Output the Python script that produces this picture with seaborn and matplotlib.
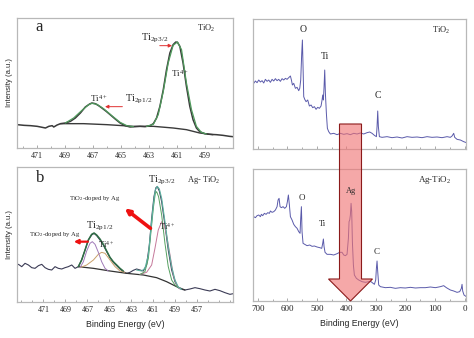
import matplotlib
matplotlib.use("Agg")
import matplotlib.pyplot as plt
import seaborn as sns
from matplotlib.patches import FancyArrow
from matplotlib.ticker import MultipleLocator

# ---------------- data (binding energy in eV, intensity in a.u.) ----------------
# panel a: Ti 2p of TiO2
a_raw_be = [472.38, 471.90, 471.43, 470.96, 470.60, 470.37, 470.13, 469.89, 469.78, 469.54,
            469.30, 468.95, 468.59, 468.24, 467.88, 467.53, 467.22, 467.06, 466.82, 466.58,
            466.35, 466.04, 465.76, 465.40, 465.05, 464.69, 464.34, 463.98, 463.63, 463.27,
            462.92, 462.68, 462.45, 462.21, 461.97, 461.74, 461.50, 461.27, 461.08, 460.96,
            460.79, 460.56, 460.32, 460.08, 459.85, 459.61, 459.37, 459.02, 458.66, 458.19,
            457.72, 457.25, 456.77, 456.54]
a_raw_int = [70, 68, 67, 65, 62, 60, 65, 67, 63, 69, 73, 75, 80, 90, 105, 123, 132, 135, 133, 127,
             120, 110, 100, 87, 75, 67, 63, 64, 65, 64, 67, 73, 90, 125, 175, 235, 285, 310, 318, 317,
             305, 255, 185, 125, 85, 60, 49, 43, 41, 40, 38, 35, 33, 32]
a_fit1_be = [468.95, 468.36, 467.77, 467.29, 467.06, 466.70, 466.23, 465.64, 465.05, 464.57, 464.10]
a_fit1_int = [75, 90, 113, 130, 134, 131, 118, 97, 77, 67, 64]
a_fit2_be = [463.16, 462.68, 462.33, 461.97, 461.62, 461.27, 460.96, 460.67, 460.32, 459.96,
             459.61, 459.26, 458.90]
a_fit2_int = [65, 71, 100, 170, 255, 308, 318, 295, 195, 115, 65, 47, 42]
a_bg_be = [469.30, 467.65, 465.99, 464.10, 462.68, 461.27, 460.32, 459.37, 458.43]
a_bg_int = [73, 73, 70, 65, 65, 60, 55, 45, 40]

# panel b: Ti 2p of Ag-TiO2
b_raw_be = [473.42, 473.27, 472.97, 472.67, 472.36, 472.06, 471.76, 471.45, 471.15, 470.85,
            470.55, 470.24, 469.94, 469.64, 469.33, 469.03, 468.73, 468.42, 468.12, 467.82,
            467.52, 467.21, 466.91, 466.61, 466.39, 466.15, 465.85, 465.55, 465.24, 464.94,
            464.64, 464.33, 464.03, 463.73, 463.42, 463.12, 462.82, 462.52, 462.21, 461.91,
            461.61, 461.36, 461.15, 460.94, 460.76, 460.64, 460.45, 460.24, 459.94, 459.64,
            459.33, 459.03, 458.73, 458.42, 458.12, 457.67, 457.21, 456.76, 456.30, 455.85,
            455.39, 454.94, 454.48, 454.03, 453.73]
b_raw_int = [111, 113, 106, 116, 111, 103, 101, 109, 113, 103, 98, 96, 106, 101, 99, 103, 106, 111,
             101, 106, 126, 156, 186, 201, 206, 199, 186, 171, 151, 133, 119, 109, 99, 91, 86, 89,
             95, 99, 96, 93, 111, 171, 251, 316, 343, 346, 333, 301, 231, 156, 96, 61, 43, 38, 36,
             39, 43, 40, 36, 33, 38, 34, 28, 23, 25]
b_bg_be = [467.82, 466.45, 464.94, 463.42, 461.91, 460.70, 459.79, 458.88, 458.12]
b_bg_int = [106, 101, 93, 86, 81, 73, 61, 46, 36]
b_env1_be = [467.82, 467.52, 467.21, 466.91, 466.61, 466.39, 466.15, 465.85, 465.55, 465.24,
             464.94, 464.64, 464.33, 464.03, 463.73]
b_env1_int = [106, 126, 156, 186, 203, 207, 201, 189, 173, 153, 134, 121, 111, 101, 93]
b_dop1_be = [467.67, 467.36, 467.06, 466.76, 466.55, 466.30, 466.00, 465.70, 465.39, 465.09]
b_dop1_int = [103, 121, 153, 176, 181, 173, 149, 121, 101, 93]
b_ti1_be = [467.67, 467.06, 466.45, 466.00, 465.70, 465.39, 464.94, 464.48, 464.03, 463.58]
b_ti1_int = [103, 111, 126, 143, 149, 146, 126, 106, 93, 89]
b_env2_be = [462.52, 462.06, 461.76, 461.45, 461.24, 461.00, 460.82, 460.64, 460.45, 460.24,
             459.94, 459.64, 459.33, 459.03, 458.73, 458.42]
b_env2_int = [96, 93, 101, 141, 211, 291, 336, 347, 339, 311, 241, 166, 106, 66, 45, 38]
b_dop2_be = [462.21, 461.76, 461.45, 461.24, 461.00, 460.82, 460.70, 460.52, 460.24, 459.94,
             459.64, 459.33, 459.03, 458.73]
b_dop2_int = [83, 91, 131, 201, 281, 326, 331, 316, 261, 176, 106, 66, 51, 43]
b_ti2_be = [462.21, 461.61, 461.15, 460.85, 460.55, 460.24, 460.03, 459.79, 459.48, 459.18,
            458.88, 458.58]
b_ti2_int = [83, 89, 111, 161, 216, 241, 233, 201, 141, 81, 51, 39]

# panel c: survey TiO2
c_be = [719.2, 713.5, 707.9, 702.3, 696.6, 691.0, 685.3, 679.7, 674.1, 668.4,
        662.8, 657.2, 651.5, 645.9, 640.2, 634.6, 629.0, 623.3, 617.7, 612.1,
        606.4, 600.8, 595.2, 589.5, 586.1, 582.7, 578.2, 572.6, 566.9, 561.3,
        557.9, 554.6, 551.2, 548.9, 546.7, 544.4, 541.0, 536.5, 530.9, 525.3,
        519.6, 514.0, 508.3, 502.7, 497.1, 491.4, 485.8, 482.4, 480.2, 477.9,
        475.6, 473.4, 471.1, 467.8, 464.4, 459.9, 454.2, 442.9, 431.7, 420.4,
        409.1, 397.9, 386.6, 375.3, 364.0, 352.8, 341.5, 330.2, 321.2, 313.3,
        305.4, 298.6, 296.4, 294.1, 291.9, 288.5, 279.5, 262.6, 245.7, 228.7,
        211.8, 194.9, 178.0, 161.1, 144.2, 127.3, 110.4, 93.5, 76.5, 59.6,
        48.4, 42.7, 37.1, 33.7, 25.8, 14.6, 3.3, -5.7]
c_int = [202, 197, 204, 199, 207, 201, 205, 198, 209, 203,
         207, 200, 209, 204, 211, 205, 209, 203, 211, 207,
         212, 209, 214, 219, 207, 192, 197, 182, 185, 175,
         182, 207, 287, 327, 247, 157, 149, 142, 147, 129,
         132, 124, 127, 119, 125, 122, 129, 147, 162, 147,
         187, 237, 167, 107, 62, 52, 45, 47, 43, 47,
         44, 46, 43, 47, 45, 48, 45, 49, 51, 47,
         41, 37, 67, 114, 67, 37, 35, 37, 34, 36,
         33, 37, 35, 36, 34, 37, 35, 36, 34, 37,
         35, 39, 47, 35, 29, 27, 22, 19]

# panel d: survey Ag-TiO2
d_be = [719.2, 713.5, 707.9, 702.3, 696.6, 691.0, 687.6, 683.1, 677.5, 671.8,
        666.2, 660.5, 657.2, 651.5, 645.9, 640.2, 634.6, 631.2, 627.8, 624.5,
        620.0, 614.3, 608.7, 603.0, 599.7, 596.3, 592.9, 589.5, 583.9, 578.2,
        572.6, 566.9, 561.3, 556.8, 554.6, 552.3, 550.1, 546.7, 541.0, 533.1,
        524.1, 516.2, 508.3, 499.3, 490.3, 483.5, 480.2, 477.9, 475.6, 472.3,
        465.5, 454.2, 442.9, 431.7, 422.7, 414.8, 409.1, 403.5, 397.9, 393.3,
        391.1, 388.8, 386.6, 384.3, 382.1, 379.8, 376.4, 373.1, 366.3, 358.4,
        347.1, 335.8, 324.6, 316.7, 309.9, 305.4, 300.9, 298.6, 296.4, 294.1,
        290.8, 285.1, 268.2, 251.3, 234.4, 217.5, 200.6, 183.6, 166.7, 149.8,
        132.9, 116.0, 99.1, 82.2, 70.9, 61.9, 48.4, 37.1, 25.8, 16.8,
        11.2, 8.9, 6.7, 2.2, -5.7]
d_int = [251, 253, 250, 256, 258, 253, 260, 256, 263, 260,
         265, 263, 270, 266, 268, 273, 283, 303, 308, 283,
         280, 283, 278, 283, 298, 318, 288, 253, 243, 230,
         223, 218, 208, 203, 248, 283, 208, 173, 170, 166,
         168, 164, 165, 162, 160, 158, 173, 186, 163, 146,
         140, 140, 138, 142, 146, 146, 138, 136, 140, 188,
         238, 243, 258, 293, 268, 178, 108, 78, 68, 63,
         58, 56, 58, 58, 53, 50, 63, 98, 120, 88,
         48, 43, 40, 41, 38, 40, 39, 41, 39, 40,
         40, 42, 40, 43, 46, 40, 33, 30, 26, 28,
         38, 50, 30, 18, 13]

ticks_a = [471, 469, 467, 465, 463, 461, 459]
ticks_b = [471, 469, 467, 465, 463, 461, 459, 457]
ticks_survey = [700, 600, 500, 400, 300, 200, 100, 0]

# ---------------- style ----------------
sns.set_theme(style="white")
plt.rcParams["font.family"] = ["Liberation Serif", "DejaVu Serif"]
plt.rcParams["mathtext.fontset"] = "custom"
plt.rcParams["mathtext.rm"] = "Liberation Serif"
plt.rcParams["mathtext.it"] = "Liberation Serif:italic"
SANS = ["Liberation Sans", "DejaVu Sans"]

fig = plt.figure(figsize=(4.74, 3.38), dpi=100)


def px_axes(x0, y0, x1, y1):
    return fig.add_axes([x0 / 474, 1 - y1 / 338, (x1 - x0) / 474, (y1 - y0) / 338])


ax_a = px_axes(17, 18, 233, 148)
ax_b = px_axes(17, 167, 233, 302)
ax_c = px_axes(253, 19, 466, 149)
ax_d = px_axes(253, 169, 466, 301)


def line(ax, x, y, color, lw):
    sns.lineplot(x=x, y=y, ax=ax, color=color, linewidth=lw, sort=False,
                 estimator=None, legend=False)


# panel a
line(ax_a, a_raw_be, a_raw_int, "#3a3a3a", 1.1)
line(ax_a, a_bg_be, a_bg_int, "#3a3a3a", 1.0)
line(ax_a, a_fit1_be, a_fit1_int, "#4f9a5c", 0.9)
line(ax_a, a_fit2_be, a_fit2_int, "#4f9a5c", 0.9)

# panel b
line(ax_b, b_raw_be, b_raw_int, "#3b3b55", 0.8)
line(ax_b, b_bg_be, b_bg_int, "#333333", 0.9)
line(ax_b, b_ti1_be, b_ti1_int, "#c9a06a", 0.7)
line(ax_b, b_dop1_be, b_dop1_int, "#a07ab8", 0.7)
line(ax_b, b_env1_be, b_env1_int, "#2f6e45", 1.1)
line(ax_b, b_ti2_be, b_ti2_int, "#c5789a", 0.7)
line(ax_b, b_dop2_be, b_dop2_int, "#55a060", 0.7)
line(ax_b, b_env2_be, b_env2_int, "#5cb0a0", 0.8)

# surveys
line(ax_c, c_be, c_int, "#5a5aaa", 0.7)
line(ax_d, d_be, d_int, "#5a5aaa", 0.7)

ax_a.set_xlim(472.4, 457.0)
ax_a.set_ylim(0, 390)
ax_b.set_xlim(473.4, 453.75)
ax_b.set_ylim(0, 405)
ax_c.set_xlim(716, -4.5)
ax_c.set_ylim(0, 390)
ax_d.set_xlim(716, -4.5)
ax_d.set_ylim(0, 396)

for ax in (ax_a, ax_b, ax_c, ax_d):
    for s in ax.spines.values():
        s.set_color("#b8b8b8")
        s.set_linewidth(0.9)
    ax.set_yticks([])
    ax.set_ylabel("")
    ax.set_xlabel("")
    ax.tick_params(axis="x", which="both", direction="in", color="#888888",
                   width=0.5, bottom=True, pad=3)
    ax.tick_params(axis="x", which="major", length=2.5)
    ax.tick_params(axis="x", which="minor", length=1.5)

ax_a.set_xticks(ticks_a)
ax_a.xaxis.set_minor_locator(MultipleLocator(1))
ax_a.tick_params(axis="x", labelsize=5.8)
ax_b.set_xticks(ticks_b)
ax_b.xaxis.set_minor_locator(MultipleLocator(1))
ax_b.tick_params(axis="x", labelsize=5.8)
for ax in (ax_c, ax_d):
    ax.set_xticks(ticks_survey)
    ax.xaxis.set_minor_locator(MultipleLocator(50))
ax_c.tick_params(axis="x", labelbottom=False)
ax_d.tick_params(axis="x", labelsize=6.5)

for ax in (ax_a, ax_b):
    ax.set_ylabel("Intensity (a.u.)", family=SANS, fontsize=5.5, labelpad=3)
for ax in (ax_b, ax_d):
    ax.set_xlabel("Binding Energy (eV)", family=SANS, fontsize=6.3, labelpad=4)


def txt(ax, x, y, s, size, **kw):
    ax.text(x, y, s, ha="center", va="center", fontsize=size, **kw)


TI4 = r"Ti$^{\mathregular{4+}}$"
TIO2 = r"TiO$_{\mathregular{2}}$"

# panel a annotations
txt(ax_a, 470.8, 362, "a", 12)
txt(ax_a, 458.9, 358, TIO2, 6)
txt(ax_a, 462.56, 329, r"Ti$_{\mathregular{2p3/2}}$", 7.5)
txt(ax_a, 460.8, 223, TI4, 6.5)
txt(ax_a, 466.58, 150, TI4, 6.5)
txt(ax_a, 463.72, 145, r"Ti$_{\mathregular{2p1/2}}$", 7.5)
ax_a.annotate("", xy=(461.15, 307), xytext=(462.42, 307),
              arrowprops=dict(arrowstyle="-|>", color="#e03030", lw=0.7, mutation_scale=5))
ax_a.annotate("", xy=(466.32, 124), xytext=(464.69, 124),
              arrowprops=dict(arrowstyle="-|>", color="#e03030", lw=0.7, mutation_scale=5))

# panel b annotations
txt(ax_b, 471.3, 371, "b", 12)
txt(ax_b, 456.45, 366, "Ag- " + TIO2, 6)
txt(ax_b, 460.27, 364, r"Ti$_{\mathregular{2p3/2}}$", 7.5)
txt(ax_b, 466.3, 310, TIO2 + "-doped by Ag", 4.8)
txt(ax_b, 459.73, 228, TI4, 6)
txt(ax_b, 465.85, 226, r"Ti$_{\mathregular{2p1/2}}$", 7.5)
txt(ax_b, 470.0, 202, TIO2 + "-doped by Ag", 4.8)
txt(ax_b, 465.3, 173, TI4, 6)
ax_b.annotate("", xy=(463.8, 286), xytext=(461.06, 216),
              arrowprops=dict(arrowstyle="-|>", color="#ee1111", lw=2.6, mutation_scale=7))
ax_b.annotate("", xy=(468.48, 181), xytext=(466.7, 181),
              arrowprops=dict(arrowstyle="-|>", color="#ee1111", lw=1.6, mutation_scale=6))

# panel c annotations
txt(ax_c, 547.8, 359, "O", 7)
txt(ax_c, 473.4, 277, "Ti", 7)
txt(ax_c, 294.1, 160, "C", 7)
txt(ax_c, 80.0, 357, TIO2, 6)

# panel d annotations
txt(ax_d, 100.2, 362, "Ag-" + TIO2, 6.5)
txt(ax_d, 551.2, 310, "O", 6.5)
txt(ax_d, 480.2, 230, "Ti", 6)
txt(ax_d, 296.4, 146, "C", 6.5)

# big downward arrow spanning both survey panels (figure inches)
big = FancyArrow(3.505, (338 - 124) / 100, 0, -(301 - 124) / 100, width=0.22,
                 head_width=0.44, head_length=0.22, length_includes_head=True,
                 transform=fig.dpi_scale_trans, facecolor=(0.94, 0.45, 0.45, 0.62),
                 edgecolor="#8b1a1a", linewidth=0.8, zorder=10)
fig.add_artist(big)
# "Ag" label sits on top of the arrow
fig.text(383.2, 330, "Ag", transform=ax_d.transData, ha="center", va="center",
         fontsize=6, zorder=12)

fig.savefig("out.png", dpi=100)
